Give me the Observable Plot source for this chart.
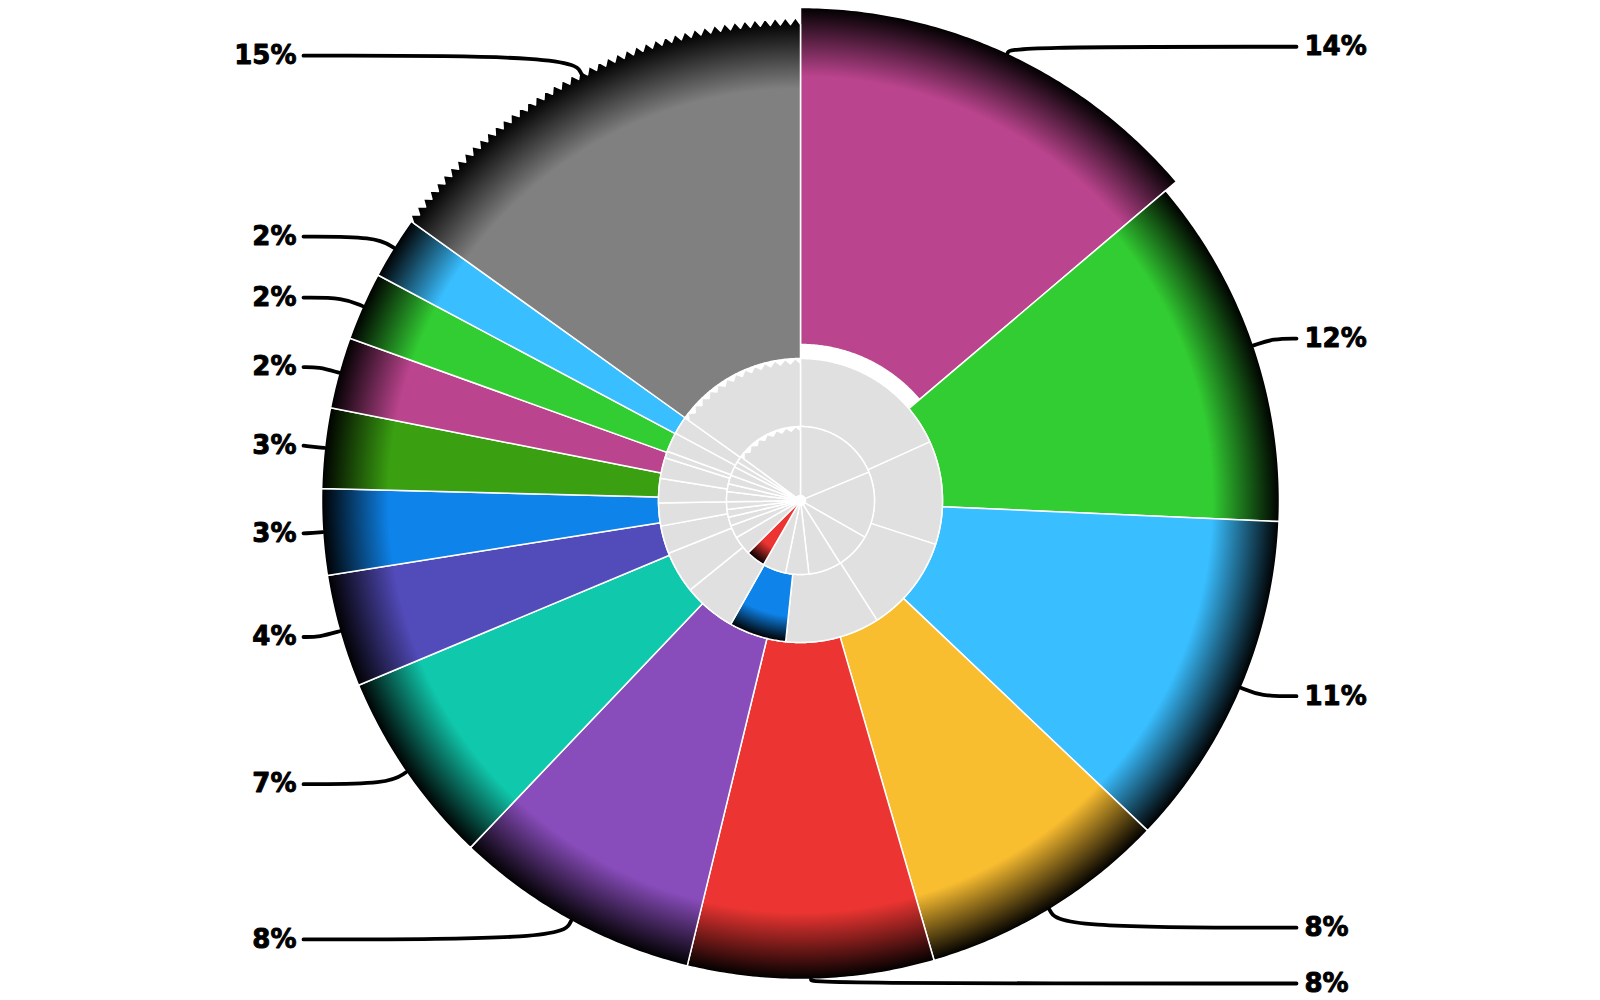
<!DOCTYPE html>
<html>
<head>
<meta charset="utf-8">
<script src="https://cdn.jsdelivr.net/npm/d3@7"></script>
<script src="https://cdn.jsdelivr.net/npm/@observablehq/plot@0.6"></script>
<style>
  html, body { margin: 0; padding: 0; background: #fff; }
  #chart svg { display: block; }
</style>
</head>
<body>
<div id="chart"></div>
<script>
// ---------- data ----------
const outerCategories = ["A", "B", "C", "D", "E", "F", "G", "H", "I", "J", "K", "L", "M", "Other"];
const outerValues = [13.8, 11.9, 11.4, 8.4, 8.3, 8.3, 6.6, 3.8, 2.9, 2.7, 2.4, 2.3, 2.1, 15.1];
const outerColors = ["#bb448e", "#32cd32", "#39beff", "#f9bd30", "#ec3532", "#884cbb", "#10c9ad",
                     "#524bba", "#0e83e9", "#3aa011", "#bb448e", "#32cd32", "#39beff", "#808080"];
const middleValues = [65.6, 42.4, 39.4, 38.6, 23.4, 21.6, 17.2, 11.4, 9.4, 10, 8.5, 2.8, 8, 7.3, 54.4];
const innerValues = [67.5, 52.1, 28.1, 25.8, 18.2, 18.3, 15, 15, 10, 7, 6, 6, 8, 6, 7, 7, 4.5, 4.8, 53.7];
const middleHighlight = {index: 4, color: "#0e83e9"};
const innerHighlight = {index: 6, color: "#ec3532"};
const explodedIndex = 0;

// ---------- style constants ----------
const R_OUT = 479, R_MID = 142, R_IN = 74, R_HOLE = 5, EXPLODE = 14, R_LABEL = 500;
const RING_GREY = "#e0e0e0";
const TAU = Math.PI * 2;

function ringSegments(values) {
  const total = d3.sum(values);
  let acc = 0;
  return values.map((v, i) => {
    const a0 = acc / total * TAU; acc += v;
    return {i, v, pct: v / total * 100, a0, a1: acc / total * TAU, last: i === values.length - 1};
  });
}

function polygon(id, a0, a1, ri, ro, fill, saw) {
  const pts = [];
  const push = (a, r) => pts.push({id, fill, x: r * Math.sin(a), y: r * Math.cos(a)});
  if (saw) {
    const n = Math.max(1, Math.round(ro * (a1 - a0) / saw.period));
    for (let k = 0; k <= 2 * n; k++) {
      const a = a0 + (a1 - a0) * k / (2 * n);
      push(a, k % 2 === 0 ? ro + saw.base : ro + saw.tip);
    }
  } else {
    const steps = Math.max(2, Math.ceil((a1 - a0) / (Math.PI / 360)));
    for (let k = 0; k <= steps; k++) push(a0 + (a1 - a0) * k / steps, ro);
  }
  const steps = Math.max(2, Math.ceil((a1 - a0) / (Math.PI / 360)));
  for (let k = steps; k >= 0; k--) push(a0 + (a1 - a0) * k / steps, ri);
  return pts;
}

const gradients = [];
const polys = [];

// outer ring
const outerSegs = ringSegments(outerValues);
outerSegs.forEach(s => {
  const ex = s.i === explodedIndex ? EXPLODE : 0;
  const ro = R_OUT + ex, ri = R_MID + ex;
  const gid = "go" + s.i;
  gradients.push({id: gid, r: ro, color: outerColors[s.i], start: 0.86});
  polys.push(...polygon("o" + s.i, s.a0, s.a1, ri, ro, `url(#${gid})`,
    s.last ? {period: 10, base: -3, tip: 4} : null));
});

// middle ring
ringSegments(middleValues).forEach(s => {
  let fill = RING_GREY;
  if (s.i === middleHighlight.index) {
    gradients.push({id: "gm" + s.i, r: R_MID, color: middleHighlight.color, start: 0.82});
    fill = `url(#gm${s.i})`;
  }
  polys.push(...polygon("m" + s.i, s.a0, s.a1, R_IN, R_MID, fill,
    s.last ? {period: 10, base: -5, tip: 0} : null));
});

// inner ring
ringSegments(innerValues).forEach(s => {
  let fill = RING_GREY;
  if (s.i === innerHighlight.index) {
    gradients.push({id: "gi" + s.i, r: R_IN, color: innerHighlight.color, start: 0.74});
    fill = `url(#gi${s.i})`;
  }
  polys.push(...polygon("i" + s.i, s.a0, s.a1, R_HOLE, R_IN, fill,
    s.last ? {period: 10, base: -4, tip: 0} : null));
});

// labels + leader lines
const labelRows = [];
const leaderPts = [];
outerSegs.forEach(s => {
  const m = (s.a0 + s.a1) / 2;
  const ro = R_OUT + (s.i === explodedIndex ? EXPLODE : 0);
  const side = Math.sin(m) >= 0 ? 1 : -1;
  const ax = ro * Math.sin(m), ay = ro * Math.cos(m);
  const ly = Math.max(-483, R_LABEL * Math.cos(m));
  const endX = side > 0 ? 496 : -497;
  let cxp = R_LABEL * Math.sin(m);
  cxp = side > 0 ? Math.min(cxp, endX) : Math.max(cxp, endX);
  leaderPts.push({id: s.i, x: ax, y: ay}, {id: s.i, x: cxp, y: ly}, {id: s.i, x: endX, y: ly});
  labelRows.push({side, x: side * 504, y: ly, text: `${Math.round(s.pct)}%`});
});

const textOpts = {x: "x", y: "y", text: "text", fontSize: 26, fontWeight: "bold",
  fontFamily: "DejaVu Sans", fill: "#000", stroke: "#000", strokeWidth: 0.9};

const chart = Plot.plot({
  width: 1600,
  height: 1000,
  margin: 0,
  x: {domain: [-800, 800], axis: null},
  y: {domain: [-500, 500], axis: null},
  color: {type: "identity"},
  marks: [
    Plot.line(polys, {x: "x", y: "y", z: "id", fill: "fill", stroke: "white", strokeWidth: 1.5,
      curve: "linear-closed", strokeLinejoin: "round"}),
    Plot.line(leaderPts, {x: "x", y: "y", z: "id", stroke: "#000", strokeWidth: 3.8, curve: "basis"}),
    Plot.text(labelRows.filter(d => d.side > 0), {...textOpts, textAnchor: "start"}),
    Plot.text(labelRows.filter(d => d.side < 0), {...textOpts, textAnchor: "end"})
  ]
});

// radial gradients (centred on the pie centre, in user space)
const ns = "http://www.w3.org/2000/svg";
const cx = chart.scale("x").apply(0), cy = chart.scale("y").apply(0);
const defs = document.createElementNS(ns, "defs");
gradients.forEach(g => {
  const rg = document.createElementNS(ns, "radialGradient");
  rg.setAttribute("id", g.id);
  rg.setAttribute("gradientUnits", "userSpaceOnUse");
  rg.setAttribute("cx", cx); rg.setAttribute("cy", cy); rg.setAttribute("r", g.r);
  [[0, g.color], [g.start, g.color], [1, "#000"]].forEach(([o, c]) => {
    const st = document.createElementNS(ns, "stop");
    st.setAttribute("offset", o); st.setAttribute("stop-color", c);
    rg.appendChild(st);
  });
  defs.appendChild(rg);
});
chart.insertBefore(defs, chart.firstChild);
document.getElementById("chart").appendChild(chart);
</script>
</body>
</html>
